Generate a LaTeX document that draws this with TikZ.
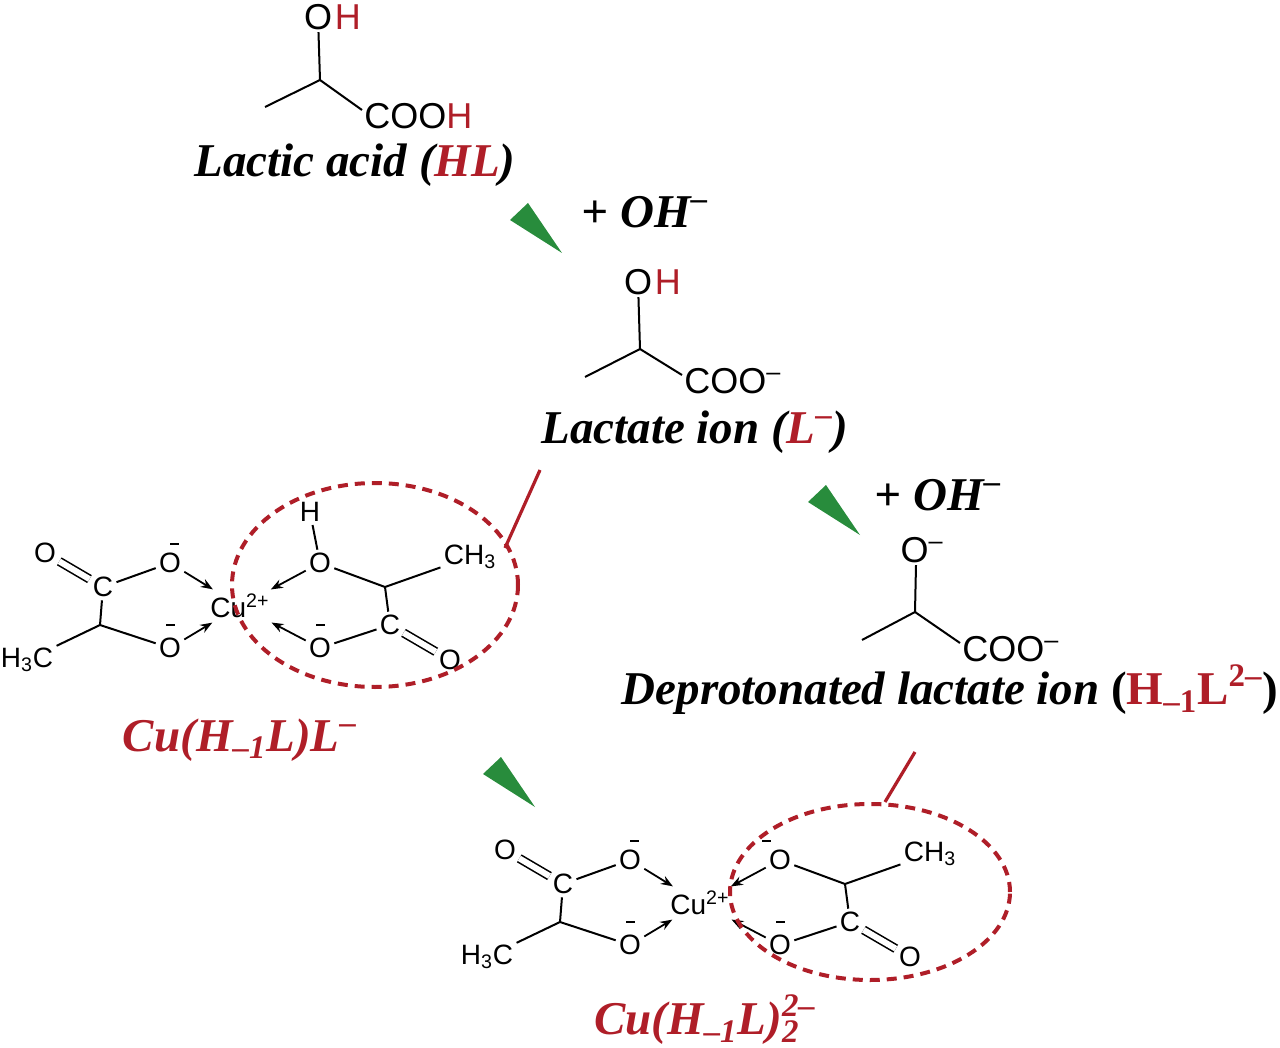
\documentclass[tikz,border=0pt]{standalone}
\usepackage{fontspec}
\setmainfont{Liberation Serif}
\newfontfamily\atomf{Liberation Sans}
\usetikzlibrary{arrows.meta}
\definecolor{myred}{RGB}{175,30,40}
\definecolor{mygreen}{RGB}{40,140,60}
\tikzset{
 atom/.style={font=\atomf\fontsize{18}{20}\selectfont, inner sep=1pt},
 catom/.style={font=\atomf\fontsize{14}{16}\selectfont, inner sep=1.5pt},
 lbl/.style={font=\fontsize{23.5}{26}\selectfont\bfseries\itshape, inner sep=0pt},
 bond/.style={line width=1pt},
 dbond/.style={line width=0.8pt, double, double distance=3pt},
 coordb/.style={-{Stealth[length=6pt,width=4.5pt]}, line width=0.9pt, shorten >=1pt},
 redln/.style={myred, line width=1.6pt},
 ring/.style={myred, dash pattern=on 5pt off 3.5pt, line width=2pt},
 tri/.style={fill=mygreen, draw=none}
}
\newcommand\cuplex[3]{%
\begin{scope}[shift={#2}]
 \node[catom] (#1o1) at (-187,-55) {O};
 \node[catom] (#1c1) at (-129,-21) {C};
 \node[catom] (#1o2) at (-62,-45) {O};
 \draw[bond] (-62,-64) -- (-53,-64);
 \node[catom] (#1cu) at (8,-2) {Cu\textsuperscript{2+}};
 \node[catom] (#1o3) at (-62,40) {O};
 \draw[bond] (-66,17) -- (-57,17);
 \coordinate (#1ch) at (-132,17);
 \node[catom] (#1h3c) at (-205,52) {H\textsubscript{3}C};
 \node[catom] (#1o4) at (88,-45) {O};
 #3
 \node[catom] (#1ch3) at (238,-51) {CH\textsubscript{3}};
 \coordinate (#1ch2) at (153,-21);
 \node[catom] (#1c2) at (158,17) {C};
 \node[catom] (#1o5) at (88,40) {O};
 \draw[bond] (84,17) -- (93,17);
 \node[catom] (#1o6) at (218,52) {O};
 \draw[dbond] (#1o1) -- (#1c1);
 \draw[bond] (#1c1) -- (#1o2);
 \draw[bond] (#1c1) -- (#1ch);
 \draw[bond] (#1ch) -- (#1h3c);
 \draw[bond] (#1ch) -- (#1o3);
 \draw[coordb] (#1o2) -- (#1cu);
 \draw[coordb] (#1o3) -- (#1cu);
 \draw[coordb] (#1o4) -- (#1cu);
 \draw[coordb] (#1o5) -- (#1cu);
 \draw[bond] (#1o4) -- (#1ch2);
 \draw[bond] (#1ch2) -- (#1ch3);
 \draw[bond] (#1ch2) -- (#1c2);
 \draw[bond] (#1c2) -- (#1o5);
 \draw[dbond] (#1c2) -- (#1o6);
\end{scope}}
\begin{document}
\begin{tikzpicture}[x=0.5pt,y=-0.5pt]
\useasboundingbox (0,0) rectangle (1280,1048);
% lactic acid
\coordinate (m1a) at (265,107);
\coordinate (m1ch) at (320,80);
\node[atom] (m1o) at (318,17) {O};
\node[atom, anchor=west, inner sep=0pt, myred] (m1h) at (m1o.east) {H};
\node[atom, anchor=west] (m1c) at (362,116) {COO{\color{myred}H}};
\draw[bond] (m1a) -- (m1ch) -- (m1o);
\draw[bond] (m1ch) -- ([yshift=3pt]m1c.west);
\node[lbl] (l1) at (355,165) {Lactic acid ({\color{myred}HL})};
% arrow 1
\draw[tri] (562,253) -- (510,220) -- (528,203) -- cycle;
\node[lbl] (p1) at (645,212) {+ OH\textsuperscript{–}};
% lactate
\coordinate (m2a) at (585,377);
\coordinate (m2ch) at (640,349);
\node[atom] (m2o) at (638,282) {O};
\node[atom, anchor=west, inner sep=0pt, myred] (m2h) at (m2o.east) {H};
\node[atom, anchor=west] (m2c) at (682,381) {COO\textsuperscript{–}};
\draw[bond] (m2a) -- (m2ch) -- (m2o);
\draw[bond] (m2ch) -- ([yshift=3pt]m2c.west);
\node[lbl] (l2) at (695,432) {Lactate ion ({\color{myred}L\textsuperscript{–}})};
% arrow 2
\draw[tri] (860,535) -- (808,502) -- (826,485) -- cycle;
\node[lbl] (p2) at (938,495) {+ OH\textsuperscript{–}};
% deprotonated
\coordinate (m3a) at (862,640);
\coordinate (m3ch) at (915,612);
\node[atom] (m3o) at (922,550) {O\textsuperscript{–}};
\node[atom, anchor=west] (m3c) at (960,649) {COO\textsuperscript{–}};
\draw[bond] (m3a) -- (m3ch) -- ([xshift=-3pt]m3o.south);
\draw[bond] (m3ch) -- ([yshift=3pt]m3c.west);
\node[lbl] (l3) at (950,690) {Deprotonated lactate ion {\upshape(\color{myred}H\textsubscript{–1}L\textsuperscript{2–}\color{black})}};
% left complex
\cuplex{a}{(232,608)}{\node[catom] (ah) at (78,-96) {H}; \draw[bond] (ah) -- (ao4);}
\draw[ring] (375,585) ellipse [x radius=71.5pt, y radius=51pt];
\coordinate (e1) at (505,548);
\coordinate (r1) at (540,470);
\draw[redln] (r1) -- (e1);
\node[lbl, myred] (l4) at (240,740) {Cu(H\textsubscript{–\textit{1}}L)L\textsuperscript{–}};
% arrow 3
\draw[tri] (535,807) -- (483,774) -- (501,757) -- cycle;
% bottom complex
\cuplex{b}{(692,905)}{\draw[bond] (70,-64) -- (79,-64);}
\draw[ring] (870,892) ellipse [x radius=70pt, y radius=44pt];
\coordinate (e2) at (885,802);
\coordinate (r2) at (915,752);
\draw[redln] (r2) -- (e2);
\node[lbl, myred] (l5) at (705,1020) {Cu(H\textsubscript{–1}L)\rlap{\textsubscript{2}}\textsuperscript{2–}};
\end{tikzpicture}
\end{document}
